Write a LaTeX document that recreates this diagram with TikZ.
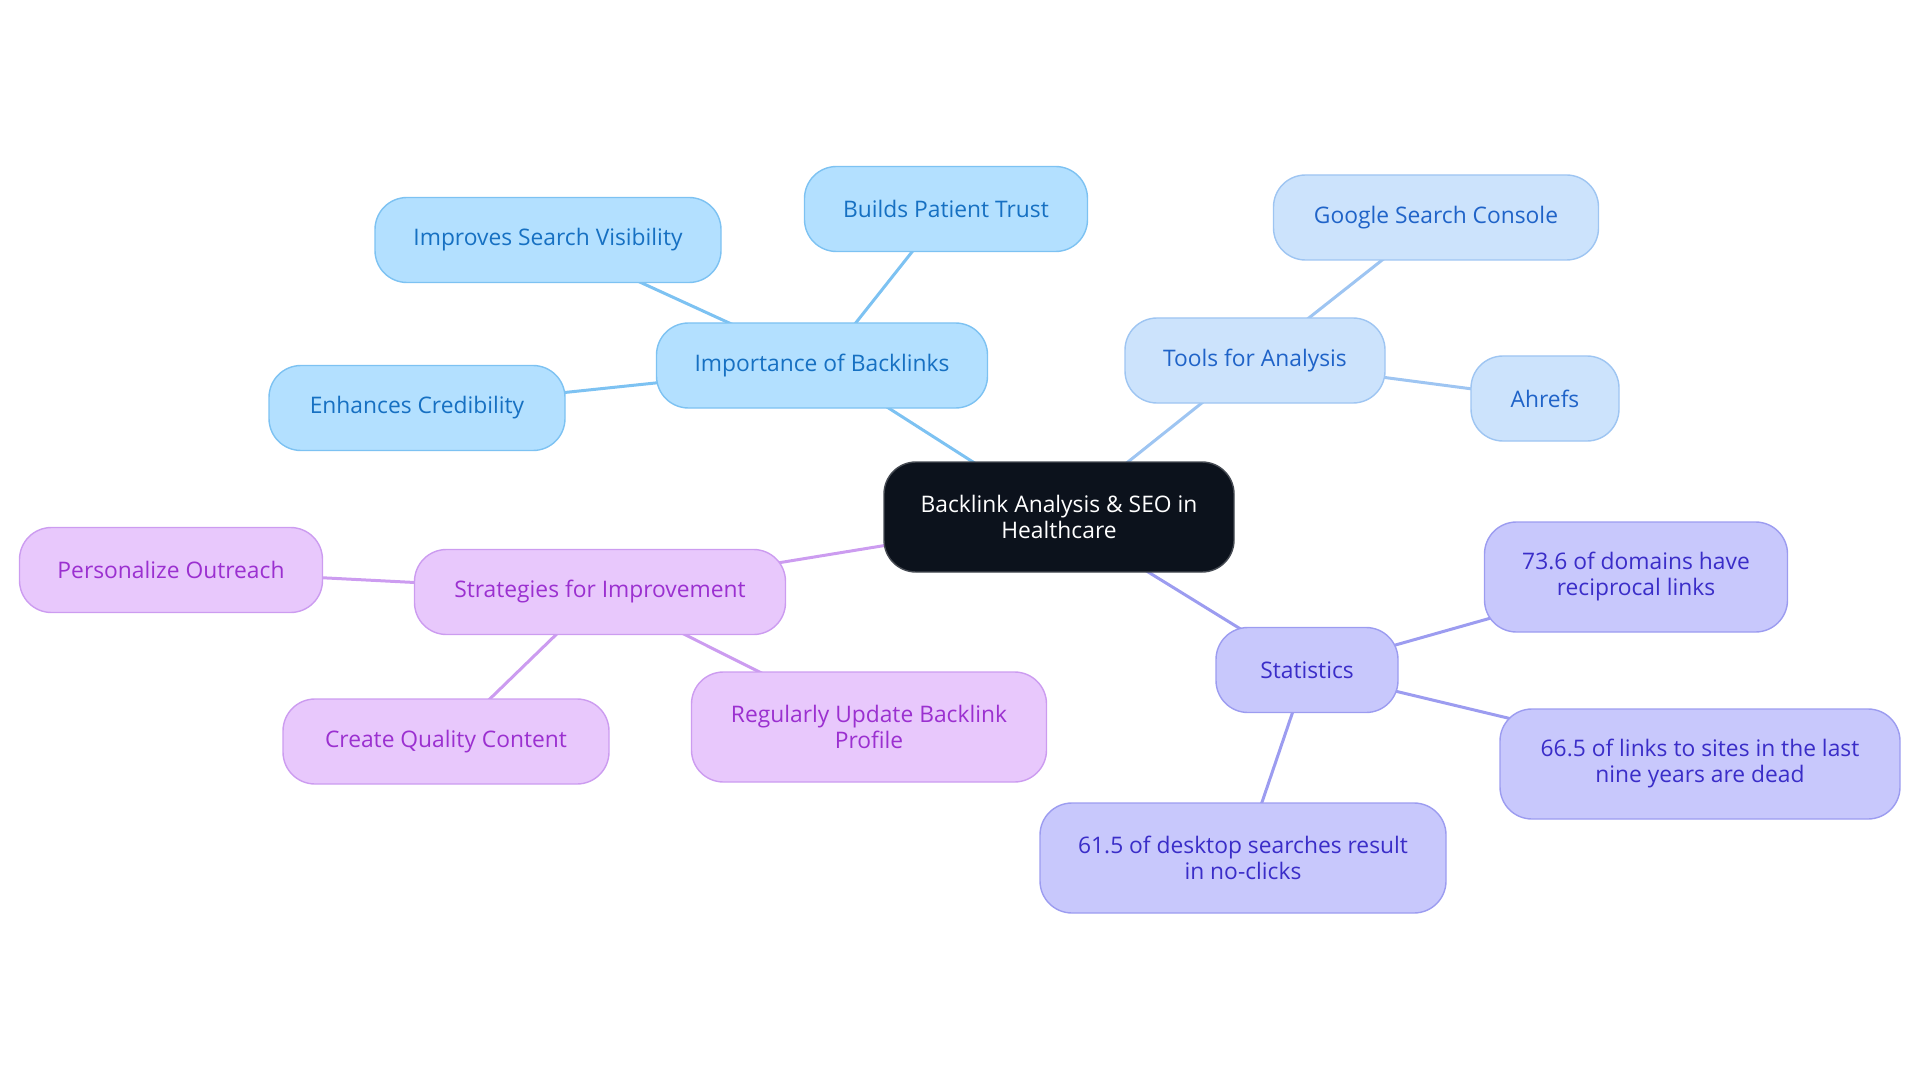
\documentclass[tikz,border=0pt]{standalone}
\usepackage{fontspec}
\setmainfont{Open Sans}
\usetikzlibrary{backgrounds}
\definecolor{impfill}{HTML}{B3E0FF}
\definecolor{impline}{HTML}{7DC2F2}
\definecolor{imptext}{HTML}{1670C2}
\definecolor{toolfill}{HTML}{CCE3FC}
\definecolor{toolline}{HTML}{9EC5F2}
\definecolor{tooltext}{HTML}{1F63C8}
\definecolor{statfill}{HTML}{C8C8FC}
\definecolor{statline}{HTML}{9C9CF0}
\definecolor{stattext}{HTML}{3A2DC8}
\definecolor{stratfill}{HTML}{E8C8FC}
\definecolor{stratline}{HTML}{CC9CF0}
\definecolor{strattext}{HTML}{9B30D0}
\definecolor{centfill}{HTML}{0C121C}
\definecolor{centline}{HTML}{454A52}
\tikzset{
  box/.style={rounded corners=32pt, line width=1.4pt, align=center, inner sep=0pt,
    minimum height=85pt, font=\fontsize{22.8}{26}\selectfont},
  impbox/.style={box, fill=impfill, draw=impline, text=imptext},
  toolbox/.style={box, fill=toolfill, draw=toolline, text=tooltext},
  statbox/.style={box, fill=statfill, draw=statline, text=stattext},
  stratbox/.style={box, fill=stratfill, draw=stratline, text=strattext},
  centbox/.style={box, fill=centfill, draw=centline, text=white},
  link/.style={line width=3pt}
}
\begin{document}
\begin{tikzpicture}[x=1pt,y=-1pt]
\useasboundingbox (0,0) rectangle (1920,1083);
\node[centbox, minimum width=350pt, minimum height=110pt] (c) at (1059,517) {Backlink Analysis \& SEO in\\Healthcare};
\node[impbox, minimum width=331pt] (imp) at (822,365.5) {Importance of Backlinks};
\node[impbox, minimum width=346pt] (isv) at (548,240) {Improves Search Visibility};
\node[impbox, minimum width=283pt] (bpt) at (946,209) {Builds Patient Trust};
\node[impbox, minimum width=296pt] (enh) at (417,408) {Enhances Credibility};
\node[toolbox, minimum width=260pt] (tools) at (1255,360.5) {Tools for Analysis};
\node[toolbox, minimum width=325pt] (gsc) at (1436,217.5) {Google Search Console};
\node[toolbox, minimum width=148pt] (ahr) at (1545,398.5) {Ahrefs};
\node[statbox, minimum width=182pt] (stats) at (1307,670) {Statistics};
\node[statbox, minimum width=303pt, minimum height=110pt] (s1) at (1636,577) {73.6 of domains have\\reciprocal links};
\node[statbox, minimum width=400pt, minimum height=110pt] (s2) at (1700,764) {66.5 of links to sites in the last\\nine years are dead};
\node[statbox, minimum width=406pt, minimum height=110pt] (s3) at (1243,858) {61.5 of desktop searches result\\in no-clicks};
\node[stratbox, minimum width=371pt] (strat) at (600,592) {Strategies for Improvement};
\node[stratbox, minimum width=303pt] (pers) at (171,570) {Personalize Outreach};
\node[stratbox, minimum width=326pt] (cqc) at (446,741.5) {Create Quality Content};
\node[stratbox, minimum width=355pt, minimum height=110pt] (rub) at (869,727) {Regularly Update Backlink\\Profile};
\begin{scope}[on background layer]
\draw[link, impline] (c.center) -- (imp.center);
\draw[link, impline] (imp.center) -- (isv.center);
\draw[link, impline] (imp.center) -- (bpt.center);
\draw[link, impline] (imp.center) -- (enh.center);
\draw[link, toolline] (c.center) -- (tools.center);
\draw[link, toolline] (tools.center) -- (gsc.center);
\draw[link, toolline] (tools.center) -- (ahr.center);
\draw[link, statline] (c.center) -- (stats.center);
\draw[link, statline] (stats.center) -- (s1.center);
\draw[link, statline] (stats.center) -- (s2.center);
\draw[link, statline] (stats.center) -- (s3.center);
\draw[link, stratline] (c.center) -- (strat.center);
\draw[link, stratline] (strat.center) -- (pers.center);
\draw[link, stratline] (strat.center) -- (cqc.center);
\draw[link, stratline] (strat.center) -- (rub.center);
\end{scope}
\end{tikzpicture}
\end{document}
